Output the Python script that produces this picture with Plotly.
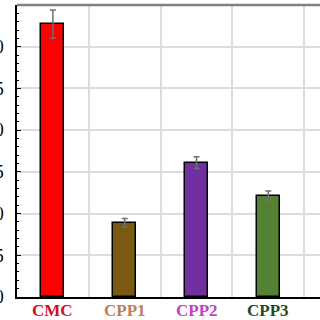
import plotly.graph_objects as go

categories = ["CMC", "CPP1", "CPP2", "CPP3"]
values = [32.7, 8.9, 16.1, 12.1]
errors = [1.7, 0.5, 0.7, 0.6]
bar_colors = ["#ff0000", "#7a5a12", "#7030a0", "#548235"]
label_colors = ["#d01020", "#b88058", "#c040c8", "#1e4a1e"]
y_ticks = [0, 5, 10, 15, 20, 25, 30, 35]

xpos = list(range(len(categories)))

fig = go.Figure()
fig.add_trace(go.Bar(
    x=xpos, y=values, width=0.32,
    marker=dict(color=bar_colors, line=dict(color="#000000", width=1.5)),
    error_y=dict(type="data", array=errors, color="#707070", thickness=1.5, width=3),
    showlegend=False,
))

annotations = [
    dict(x=xp, y=0, xref="x", yref="paper", text=f"<b>{t}</b>", showarrow=False,
         yanchor="middle", yshift=-13,
         font=dict(size=17, family="Liberation Serif", color=c))
    for xp, t, c in zip(xpos, categories, label_colors)
]

fig.update_layout(
    width=320, height=320,
    margin=dict(l=17, r=0, t=5, b=23, autoexpand=False),
    paper_bgcolor="white", plot_bgcolor="white",
    font=dict(family="Liberation Serif", color="#000000"),
    bargap=0,
    xaxis=dict(
        range=[-0.5, 3.72], tickvals=xpos, showticklabels=False, automargin=False,
        showgrid=False, zeroline=False,
        showline=True, linecolor="#000000", linewidth=1.5,
        ticks="",
        minor=dict(tickvals=[0.5, 1.5, 2.5, 3.5], showgrid=True, gridcolor="#dcdcdc", gridwidth=1.5, ticks=""),
    ),
    yaxis=dict(
        range=[0, 35], tickvals=y_ticks, ticktext=[str(v) for v in y_ticks], automargin=False,
        tickfont=dict(size=18, family="Liberation Serif"),
        showgrid=True, gridcolor="#dcdcdc", gridwidth=1.5, zeroline=False,
        showline=True, linecolor="#000000", linewidth=1.5,
        ticks="inside", ticklen=4, tickcolor="#000000",
        ticklabelstandoff=8,
        minor=dict(dtick=1, ticks="inside", ticklen=2.5, tickcolor="#000000"),
    ),
    annotations=annotations,
    shapes=[dict(type="line", xref="paper", yref="paper", x0=0, x1=1, y0=1, y1=1,
                 line=dict(color="#7f7f7f", width=2.5))],
)

fig.write_html("out.html")
